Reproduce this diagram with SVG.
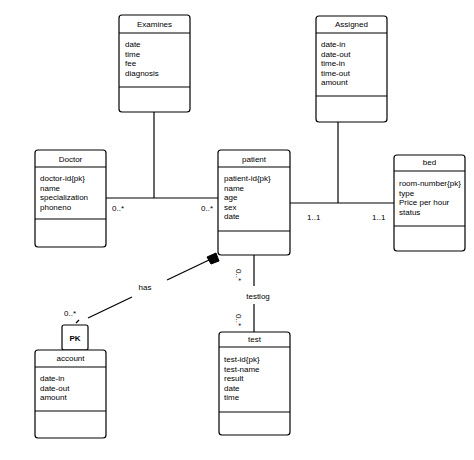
<svg xmlns="http://www.w3.org/2000/svg" width="474" height="460" viewBox="0 0 474 460">
<style>
.box{fill:#fff;stroke:#000;stroke-width:1.2}
.sep{stroke:#000;stroke-width:1.2}
.t{font-family:"Liberation Sans",Arial,sans-serif;font-size:8px;fill:#000}
.c{text-anchor:middle}
.ln{stroke:#000;stroke-width:1.2;fill:none}
</style>
<rect width="474" height="460" fill="#fff"/>
<g id="connectors">
<line class="ln" x1="106" y1="198" x2="218" y2="198"/>
<line class="ln" x1="154" y1="112" x2="154" y2="198"/>
<line class="ln" x1="290" y1="203" x2="394" y2="203"/>
<line class="ln" x1="338" y1="122" x2="338" y2="203"/>
<line class="ln" x1="254" y1="255" x2="254" y2="286"/>
<line class="ln" x1="254" y1="304" x2="254" y2="332"/>
<line class="ln" x1="209" y1="260" x2="167" y2="280"/>
<line class="ln" x1="132" y1="297" x2="88" y2="318"/>
<polygon points="216,253 219,261 211,264 207,257" fill="#000" stroke="#000"/>
<path class="ln" d="M76,323 L79,320"/>
<text class="t" x="112" y="211">0..*</text>
<text class="t" x="201" y="211">0..*</text>
<text class="t" x="307" y="220">1..1</text>
<text class="t" x="372" y="220">1..1</text>
<text class="t c" x="145" y="290">has</text>
<text class="t" x="64" y="316">0..*</text>
<text class="t c" x="258" y="299">testlog</text>
<text class="t" transform="translate(236,269) rotate(90)">0..*</text>
<text class="t" transform="translate(236,314) rotate(90)">0..*</text>
</g>
<g id="examines">
<rect class="box" x="119" y="15" width="71" height="97" rx="3"/>
<line class="sep" x1="119" y1="33" x2="190" y2="33"/>
<line class="sep" x1="119" y1="87" x2="190" y2="87"/>
<text class="t c" x="154.5" y="27">Examines</text>
<text class="t" x="125" y="47">date</text>
<text class="t" x="125" y="56.5">time</text>
<text class="t" x="125" y="66">fee</text>
<text class="t" x="125" y="75.5">diagnosis</text>
</g>
<g id="assigned">
<rect class="box" x="316" y="16" width="71" height="106" rx="3"/>
<line class="sep" x1="316" y1="33" x2="387" y2="33"/>
<line class="sep" x1="316" y1="96" x2="387" y2="96"/>
<text class="t c" x="351.5" y="27">Assigned</text>
<text class="t" x="321" y="47">date-in</text>
<text class="t" x="321" y="56.5">date-out</text>
<text class="t" x="321" y="66">time-in</text>
<text class="t" x="321" y="75.5">time-out</text>
<text class="t" x="321" y="85">amount</text>
</g>
<g id="doctor">
<rect class="box" x="35" y="150" width="71" height="97" rx="3"/>
<line class="sep" x1="35" y1="167" x2="106" y2="167"/>
<line class="sep" x1="35" y1="219" x2="106" y2="219"/>
<text class="t c" x="70.5" y="161.5">Doctor</text>
<text class="t" x="40" y="181">doctor-id{pk}</text>
<text class="t" x="40" y="190.5">name</text>
<text class="t" x="40" y="200">specialization</text>
<text class="t" x="40" y="209.5">phoneno</text>
</g>
<g id="patient">
<rect class="box" x="218" y="150" width="72" height="105" rx="3"/>
<line class="sep" x1="218" y1="167" x2="290" y2="167"/>
<line class="sep" x1="218" y1="231" x2="290" y2="231"/>
<text class="t c" x="254" y="161.5">patient</text>
<text class="t" x="224" y="181">patient-id{pk}</text>
<text class="t" x="224" y="190.5">name</text>
<text class="t" x="224" y="200">age</text>
<text class="t" x="224" y="209.5">sex</text>
<text class="t" x="224" y="219">date</text>
</g>
<g id="bed">
<rect class="box" x="394" y="155" width="71" height="96" rx="3"/>
<line class="sep" x1="394" y1="171" x2="465" y2="171"/>
<line class="sep" x1="394" y1="226" x2="465" y2="226"/>
<text class="t c" x="429.5" y="165">bed</text>
<text class="t" x="399" y="186">room-number{pk}</text>
<text class="t" x="399" y="195.5">type</text>
<text class="t" x="399" y="205">Price per  hour</text>
<text class="t" x="399" y="214.5">status</text>
</g>
<g id="pk">
<rect class="box" x="62" y="325" width="26" height="25" rx="2"/>
<text class="t c" x="75" y="341" font-weight="bold">PK</text>
</g>
<g id="account">
<rect class="box" x="35" y="350" width="71" height="88" rx="3"/>
<line class="sep" x1="35" y1="367" x2="106" y2="367"/>
<line class="sep" x1="35" y1="411" x2="106" y2="411"/>
<text class="t c" x="70.5" y="361">account</text>
<text class="t" x="40" y="381">date-in</text>
<text class="t" x="40" y="390.5">date-out</text>
<text class="t" x="40" y="400">amount</text>
</g>
<g id="test">
<rect class="box" x="219" y="332" width="71" height="103" rx="3"/>
<line class="sep" x1="219" y1="347" x2="290" y2="347"/>
<line class="sep" x1="219" y1="412" x2="290" y2="412"/>
<text class="t c" x="254.5" y="342">test</text>
<text class="t" x="224" y="362">test-id{pk}</text>
<text class="t" x="224" y="371.5">test-name</text>
<text class="t" x="224" y="381">result</text>
<text class="t" x="224" y="390.5">date</text>
<text class="t" x="224" y="400">time</text>
</g>
</svg>
